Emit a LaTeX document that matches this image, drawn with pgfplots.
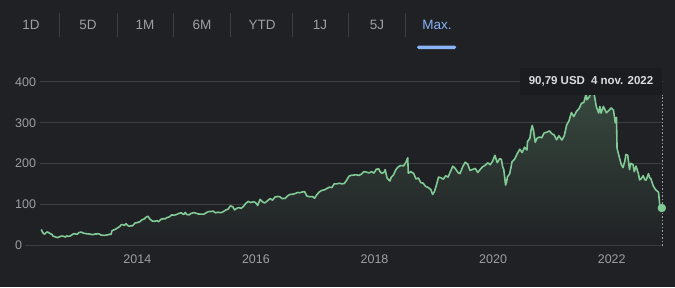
\documentclass[border=0pt]{standalone}
\usepackage{fontspec}
\setmainfont{Liberation Sans}
\usepackage{pgfplots}
\usepackage{pgfplotstable}
\pgfplotsset{compat=1.18}
\definecolor{bgc}{HTML}{202124}
\definecolor{gridc}{HTML}{3C4043}
\definecolor{txt}{HTML}{9AA0A6}
\definecolor{linec}{HTML}{81C995}
\definecolor{blu}{HTML}{8AB4F8}
\definecolor{tipbg}{HTML}{1B1C1F}
\definecolor{tiptxt}{HTML}{DADCE0}
\pgfplotstableread{
t v
2012.38 38.2
2012.40 31.9
2012.42 27.7
2012.44 26.9
2012.46 30.0
2012.48 32.0
2012.50 31.0
2012.53 28.0
2012.56 26.0
2012.58 21.7
2012.60 21.0
2012.62 19.5
2012.64 19.1
2012.66 18.0
2012.69 20.5
2012.72 22.0
2012.75 21.7
2012.79 19.5
2012.81 22.5
2012.84 21.0
2012.87 22.3
2012.90 25.0
2012.93 28.0
2012.96 27.0
2012.99 26.6
2013.02 30.9
2013.06 31.5
2013.08 29.7
2013.11 28.6
2013.13 28.0
2013.16 27.3
2013.19 27.0
2013.22 25.9
2013.25 25.5
2013.29 27.0
2013.31 26.9
2013.33 27.8
2013.36 26.8
2013.39 24.3
2013.42 24.0
2013.44 23.5
2013.47 24.2
2013.50 24.9
2013.53 26.3
2013.56 26.5
2013.57 34.4
2013.60 37.0
2013.63 38.5
2013.66 41.3
2013.70 45.0
2013.73 49.8
2013.75 50.2
2013.78 48.0
2013.81 52.5
2013.83 49.0
2013.86 46.0
2013.90 47.5
2013.92 47.0
2013.96 53.8
2013.99 54.6
2014.04 57.0
2014.08 62.0
2014.12 64.0
2014.15 68.6
2014.18 70.5
2014.21 64.0
2014.24 60.0
2014.27 58.0
2014.30 58.5
2014.33 59.8
2014.36 57.2
2014.40 63.0
2014.43 64.5
2014.47 64.3
2014.50 67.3
2014.54 69.0
2014.58 74.0
2014.62 73.0
2014.66 74.8
2014.70 77.5
2014.74 79.0
2014.78 75.0
2014.81 80.0
2014.83 75.0
2014.87 74.0
2014.91 77.7
2014.95 79.5
2014.99 78.0
2015.03 76.0
2015.07 75.9
2015.12 75.5
2015.16 79.0
2015.20 82.0
2015.24 82.2
2015.28 83.0
2015.32 78.8
2015.36 80.5
2015.40 79.2
2015.44 81.0
2015.49 85.8
2015.53 88.0
2015.57 96.0
2015.61 94.0
2015.64 86.0
2015.67 89.4
2015.71 92.0
2015.75 89.9
2015.79 95.0
2015.83 102.0
2015.87 107.0
2015.91 104.0
2015.95 106.0
2015.99 104.7
2016.03 97.0
2016.07 112.0
2016.11 106.0
2016.15 103.0
2016.19 108.0
2016.24 114.0
2016.28 110.0
2016.32 117.6
2016.36 119.0
2016.40 118.8
2016.44 114.0
2016.49 114.3
2016.53 120.0
2016.57 123.9
2016.61 124.5
2016.66 126.0
2016.70 129.0
2016.74 128.3
2016.78 130.0
2016.82 131.0
2016.86 120.0
2016.91 118.4
2016.95 119.0
2016.99 115.0
2017.03 124.0
2017.07 130.3
2017.11 134.0
2017.16 135.5
2017.20 139.0
2017.24 142.0
2017.28 141.0
2017.32 150.0
2017.36 150.0
2017.41 151.5
2017.45 150.0
2017.49 151.0
2017.53 159.0
2017.57 169.0
2017.61 171.0
2017.66 171.9
2017.70 172.0
2017.74 170.9
2017.78 174.0
2017.82 180.0
2017.86 179.0
2017.91 177.0
2017.95 180.0
2017.99 176.5
2018.03 186.0
2018.07 186.9
2018.09 181.0
2018.12 176.0
2018.16 178.3
2018.18 185.0
2018.21 165.0
2018.24 159.8
2018.26 157.0
2018.28 166.0
2018.32 172.0
2018.36 185.0
2018.40 191.8
2018.44 195.0
2018.49 194.3
2018.53 203.0
2018.56 214.0
2018.57 176.0
2018.61 180.0
2018.66 175.7
2018.70 162.0
2018.74 164.5
2018.78 153.0
2018.82 151.8
2018.86 144.0
2018.91 140.6
2018.95 136.0
2018.98 124.0
2019.01 131.0
2019.04 145.0
2019.08 166.7
2019.12 165.0
2019.16 161.5
2019.20 170.0
2019.24 166.7
2019.28 180.0
2019.32 193.4
2019.36 188.0
2019.41 177.5
2019.44 175.0
2019.49 193.0
2019.53 203.0
2019.57 199.0
2019.61 183.0
2019.66 185.7
2019.70 188.0
2019.74 178.0
2019.78 185.0
2019.82 191.7
2019.86 195.0
2019.91 201.6
2019.95 197.0
2019.99 205.3
2020.03 220.0
2020.07 201.9
2020.11 212.0
2020.14 210.0
2020.16 192.5
2020.18 185.0
2020.21 147.0
2020.23 156.0
2020.24 166.8
2020.28 175.0
2020.32 204.7
2020.36 210.0
2020.41 225.0
2020.45 235.0
2020.49 227.0
2020.53 240.0
2020.57 233.0
2020.58 253.7
2020.62 262.0
2020.64 282.0
2020.66 293.2
2020.68 282.0
2020.71 252.0
2020.74 261.9
2020.78 265.0
2020.82 263.1
2020.86 275.0
2020.91 277.0
2020.95 280.0
2020.99 273.2
2021.03 270.0
2021.07 258.3
2021.11 268.0
2021.16 257.6
2021.20 268.0
2021.24 294.5
2021.28 305.0
2021.32 325.0
2021.36 315.0
2021.41 328.7
2021.45 335.0
2021.49 347.7
2021.53 350.0
2021.57 372.0
2021.58 356.3
2021.62 363.0
2021.66 379.4
2021.68 382.0
2021.71 365.0
2021.74 339.4
2021.78 324.0
2021.80 340.0
2021.82 323.6
2021.86 340.0
2021.91 324.5
2021.95 330.0
2021.99 336.4
2022.03 331.0
2022.06 300.0
2022.08 313.0
2022.09 237.0
2022.12 220.0
2022.16 198.0
2022.19 190.0
2022.22 205.0
2022.24 222.4
2022.27 220.0
2022.30 185.0
2022.32 200.5
2022.36 197.0
2022.38 180.0
2022.41 193.6
2022.45 175.0
2022.47 160.0
2022.49 161.3
2022.53 170.0
2022.56 160.0
2022.58 159.1
2022.62 175.0
2022.64 165.0
2022.66 162.9
2022.70 145.0
2022.74 135.7
2022.77 132.0
2022.79 129.0
2022.81 98.0
2022.83 93.2
2022.845 90.79
}\meta
\begin{document}
\begin{tikzpicture}[x=1bp,y=1bp]
\fill[bgc] (0,0) rectangle (675,287);
\useasboundingbox (0,0) rectangle (675,287);
% range buttons
\foreach \lab/\cx in {1D/31,5D/88,1M/145,6M/202,YTD/262,1J/320,5J/377}
  \node[text=txt, font=\fontsize{13.5bp}{16bp}\selectfont, inner sep=0pt] at (\cx,262) {\lab};
\node[text=blu, font=\fontsize{13.5bp}{16bp}\selectfont, inner sep=0pt] at (437,262) {Max.};
\foreach \sx in {59,117,173,230,292,348,405}
  \draw[gridc, line width=1bp] (\sx,250) -- (\sx,274);
\fill[blu, rounded corners=1.5bp] (417,238) rectangle (456,241.5);
\begin{axis}[at={(25bp,42bp)}, anchor=south west, scale only axis,
  width=638bp, height=163bp,
  xmin=2012.106, xmax=2022.865, ymin=0, ymax=400,
  axis line style={draw=none}, clip=false,
  xtick={2014,2016,2018,2020,2022}, xticklabels={2014,2016,2018,2020,2022},
  ytick={0,100,200,300,400}, yticklabels={0,100,200,300,400},
  xtick pos=left, ytick style={draw=none},
  xtick style={draw=gridc, line width=1bp}, major tick length=5bp, tick align=inside,
  ticklabel style={font=\fontsize{12.5bp}{15bp}\selectfont, text=txt},
  /pgf/number format/assume math mode=true,
  yticklabel style={anchor=west, inner sep=0pt, xshift=-10bp},
  xticklabel style={anchor=center, inner sep=0pt, yshift=-14bp},
]
\draw[gridc, line width=1bp] (axis cs:2012.106,0) -- (axis cs:2022.865,0);
\draw[gridc, line width=1bp] (axis cs:2012.359,100) -- (axis cs:2022.865,100);
\draw[gridc, line width=1bp] (axis cs:2012.359,200) -- (axis cs:2022.865,200);
\draw[gridc, line width=1bp] (axis cs:2012.359,300) -- (axis cs:2022.865,300);
\draw[gridc, line width=1bp] (axis cs:2012.359,400) -- (axis cs:2022.865,400);
\addplot[draw=none, top color=linec!24!bgc, bottom color=bgc] table[x=t,y=v] {\meta} \closedcycle;
\addplot[linec, line width=1.6bp, line join=round] table[x=t,y=v] {\meta};
\draw[txt, dash pattern=on 1.5bp off 2bp, line width=1bp] (axis cs:2022.848,-2) -- (axis cs:2022.848,368);
\addplot[only marks, mark=*, mark size=4bp, color=linec] coordinates {(2022.845,90.79)};
\end{axis}
\fill[tipbg] (520,192) rectangle (662,219);
\node[text=tiptxt, font=\bfseries\fontsize{11.5bp}{14bp}\selectfont, inner sep=0pt] at (591,205.5) {90,79 USD\hspace{6bp}4 nov. 2022};
\end{tikzpicture}
\end{document}
